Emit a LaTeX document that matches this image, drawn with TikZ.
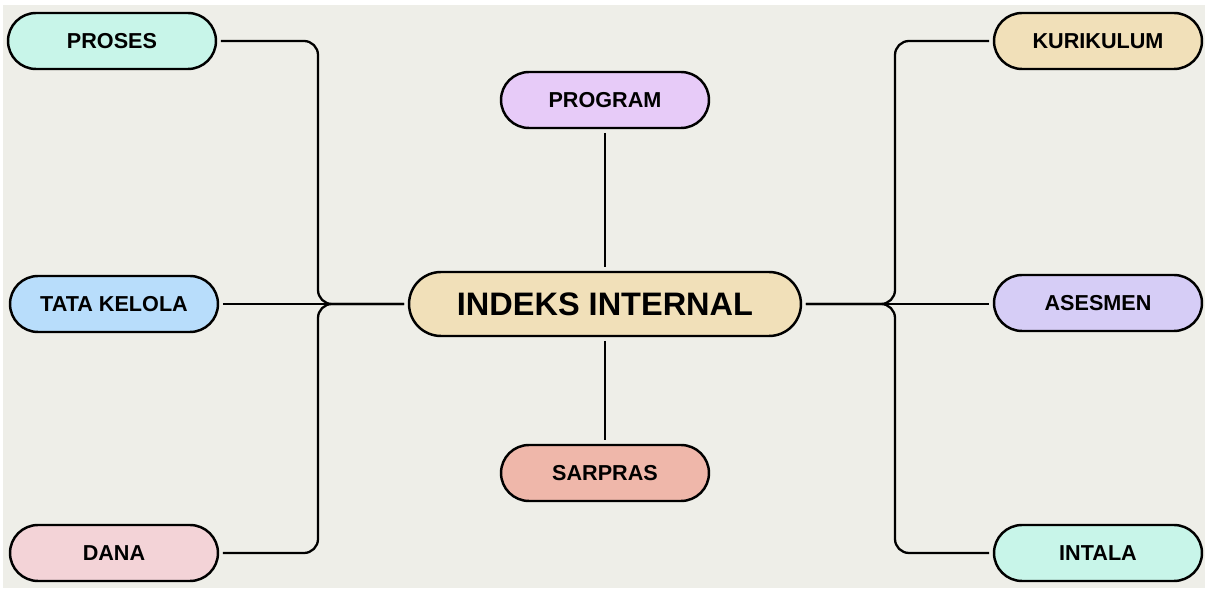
\documentclass[tikz,border=0pt]{standalone}
\usepackage{fontspec}
\setmainfont{Liberation Sans}
\usetikzlibrary{shapes.misc}

\definecolor{bgpaper}{HTML}{EEEEE8}
\definecolor{cmint}{HTML}{C8F5E9}
\definecolor{cblue}{HTML}{B8DDFB}
\definecolor{cpink}{HTML}{F3D3D7}
\definecolor{clilac}{HTML}{E7CBF8}
\definecolor{cwheat}{HTML}{F1E0B9}
\definecolor{csalmon}{HTML}{EFB7AA}
\definecolor{cviolet}{HTML}{D6CDF6}

\tikzset{
  topik/.style={rounded rectangle, draw=black, line width=1.4pt, outer sep=2.8pt,
    minimum width=4.16cm, minimum height=1.12cm, inner sep=0pt,
    font=\fontsize{12.3}{14}\selectfont\bfseries},
  inti/.style={topik, minimum width=7.84cm, minimum height=1.28cm,
    font=\fontsize{18.5}{20}\selectfont\bfseries},
  link/.style={line width=1.3pt, rounded corners=0.28cm}
}

\begin{document}
\begin{tikzpicture}[x=0.02cm, y=-0.02cm]
  \useasboundingbox (0,0) rectangle (1208,594);
  \fill[bgpaper] (3,5) rectangle (1205,588);

  % centre
  \node[inti, fill=cwheat] (indeks) at (605,304) {INDEKS INTERNAL};

  % left column
  \node[topik, fill=cmint] (proses) at (112,41) {PROSES};
  \node[topik, fill=cblue] (tata) at (114,304) {TATA KELOLA};
  \node[topik, fill=cpink] (dana) at (114,553) {DANA};

  % middle column
  \node[topik, fill=clilac] (program) at (605,100) {PROGRAM};
  \node[topik, fill=csalmon] (sarpras) at (605,473) {SARPRAS};

  % right column
  \node[topik, fill=cwheat] (kurikulum) at (1098,41) {KURIKULUM};
  \node[topik, fill=cviolet] (asesmen) at (1098,303) {ASESMEN};
  \node[topik, fill=cmint] (intala) at (1098,553) {INTALA};

  \coordinate (kiri) at (318,304);
  \coordinate (kanan) at (895,304);

  % connectors
  \draw[link] (proses.east) -| (kiri) -- (indeks.west);
  \draw[link] (dana.east) -| (kiri) -- (indeks.west);
  \draw[link] (tata.east) -- (indeks.west);
  \draw[link] (kurikulum.west) -| (kanan) -- (indeks.east);
  \draw[link] (intala.west) -| (kanan) -- (indeks.east);
  \draw[link] (indeks.east) -- (asesmen.west |- indeks.east);
  \draw[link] (program.south) -- (indeks.north);
  \draw[link] (indeks.south) -- (sarpras.north);
\end{tikzpicture}
\end{document}
